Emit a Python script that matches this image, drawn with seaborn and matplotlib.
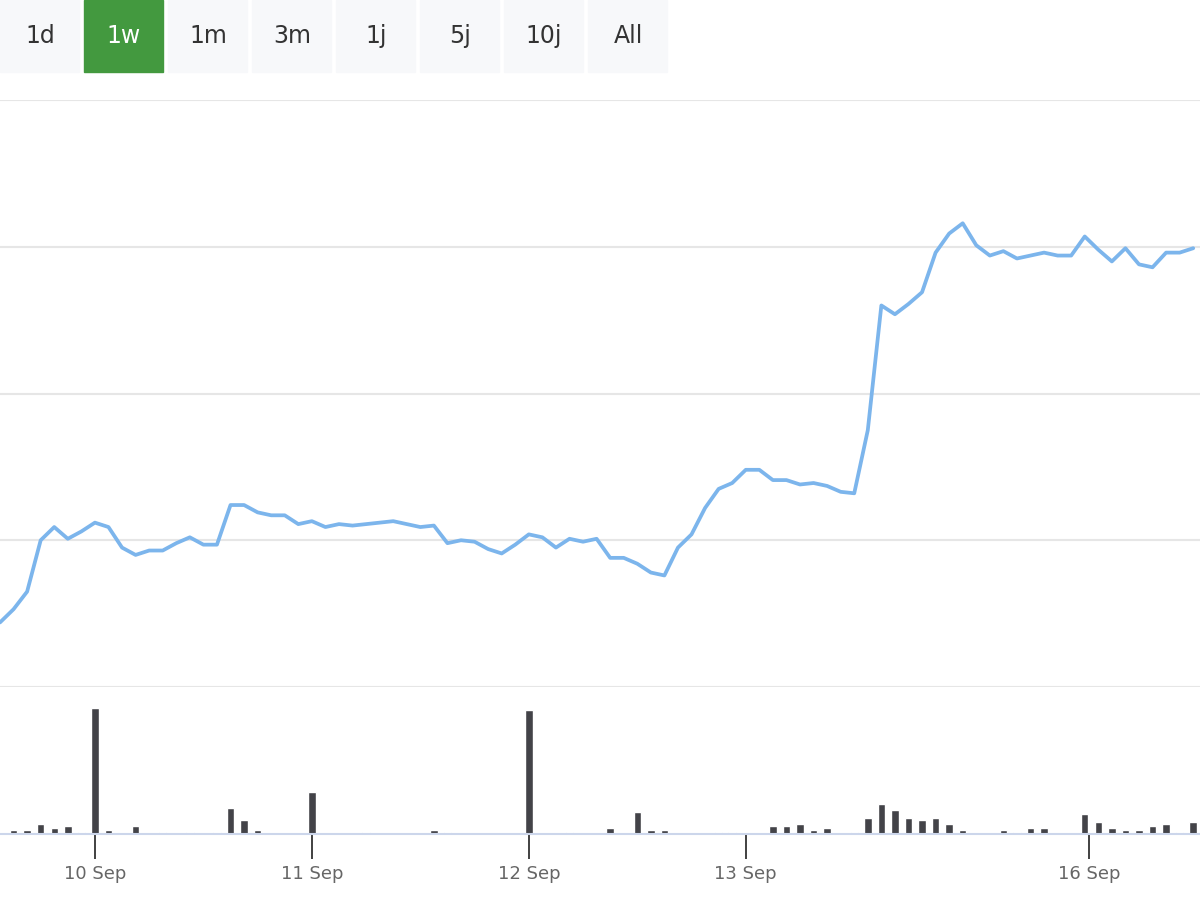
import numpy as np
import pandas as pd
import matplotlib.pyplot as plt
import seaborn as sns
from matplotlib.patches import Rectangle

#%% data (index = trading interval)
price = [0.44, 0.53, 0.65, 1.0, 1.09, 1.01, 1.06, 1.12, 1.09, 0.95, 0.90, 0.93, 0.93, 0.98,
         1.02, 0.97, 0.97, 1.24, 1.24, 1.19, 1.17, 1.17, 1.11, 1.13, 1.09, 1.11, 1.10, 1.11,
         1.12, 1.13, 1.11, 1.09, 1.10, 0.98, 1.0, 0.99, 0.94, 0.91, 0.97, 1.04, 1.02, 0.95,
         1.01, 0.99, 1.01, 0.88, 0.88, 0.84, 0.78, 0.76, 0.95, 1.04, 1.22, 1.35, 1.39, 1.48,
         1.48, 1.41, 1.41, 1.38, 1.39, 1.37, 1.33, 1.32, 1.75, 2.60, 2.54, 2.61, 2.69, 2.96,
         3.09, 3.16, 3.01, 2.94, 2.97, 2.92, 2.94, 2.96, 2.94, 2.94, 3.07, 2.98, 2.90, 2.99,
         2.88, 2.86, 2.96, 2.96, 2.99]
volume = [0, 4, 4, 10, 6, 8, 2, 126, 4, 0, 8, 0, 2, 0, 2, 0, 2, 26, 14, 4, 0, 0, 0, 42, 0,
          0, 0, 2, 0, 0, 0, 0, 4, 2, 0, 0, 0, 0, 0, 124, 0, 0, 2, 0, 0, 6, 0, 22, 4, 4, 0, 0,
          0, 2, 2, 0, 0, 8, 8, 10, 4, 6, 0, 2, 16, 30, 24, 16, 14, 16, 10, 4, 0, 0, 4, 2, 6,
          6, 0, 0, 20, 12, 6, 4, 4, 8, 10, 2, 12]
tick_pos = [7, 23, 39, 55, 80.3]
tick_labels = ['10 Sep', '11 Sep', '12 Sep', '13 Sep', '16 Sep']
buttons = ['1d', '1w', '1m', '3m', '1j', '5j', '10j', 'All']
active = '1w'

df = pd.DataFrame({'i': np.arange(len(price)), 'price': price, 'volume': volume})

sns.set_style('white')
plt.rcParams['font.family'] = ['DejaVu Sans']
fig = plt.figure(figsize=(12, 9), dpi=100)

#%% range selector buttons
for k, lab in enumerate(buttons):
    x0 = k * 84
    on = lab == active
    fig.patches.append(Rectangle((x0 / 1200, 1 - 72 / 900), 79 / 1200, 72 / 900,
                                 transform=fig.transFigure,
                                 color='#43993f' if on else '#f7f8fa', zorder=0))
    fig.text((x0 + 40) / 1200, 1 - 36 / 900, lab, ha='center', va='center', fontsize=17,
             color='white' if on else '#333333')

#%% price line
ax = fig.add_axes([0, 213 / 900, 1, 587 / 900])
sns.lineplot(data=df, x='i', y='price', ax=ax, color='#7cb5ec', linewidth=2.7)
ax.set_xlim(0, 88.5)
ax.set_ylim(0, 4)
ax.set_yticks([0, 1, 2, 3, 4])
ax.yaxis.grid(True, color='#e6e6e6', linewidth=1.5)
ax.set_yticklabels([])
ax.set_xticks([])
ax.set_xlabel('')
ax.set_ylabel('')
for s in ax.spines.values():
    s.set_visible(False)
ax.tick_params(left=False)

#%% volume bars
ax2 = fig.add_axes([0, 66 / 900, 1, 147 / 900])
sns.barplot(data=df, x='i', y='volume', ax=ax2, color='#434348', native_scale=True,
            width=0.55, saturation=1)
ax2.set_xlim(0, 88.5)
ax2.set_ylim(0, 147)
ax2.set_yticks([])
ax2.set_xticks(tick_pos)
ax2.set_xticklabels(tick_labels, fontsize=13, color='#666666')
ax2.tick_params(axis='x', bottom=True, direction='out', length=18, width=1.3,
                color='#333333', pad=4)
ax2.set_xlabel('')
ax2.set_ylabel('')
for s in ['top', 'left', 'right']:
    ax2.spines[s].set_visible(False)
ax2.spines['bottom'].set_color('#ccd6eb')
ax2.spines['bottom'].set_linewidth(1.5)

fig.savefig('out.png', dpi=100)
